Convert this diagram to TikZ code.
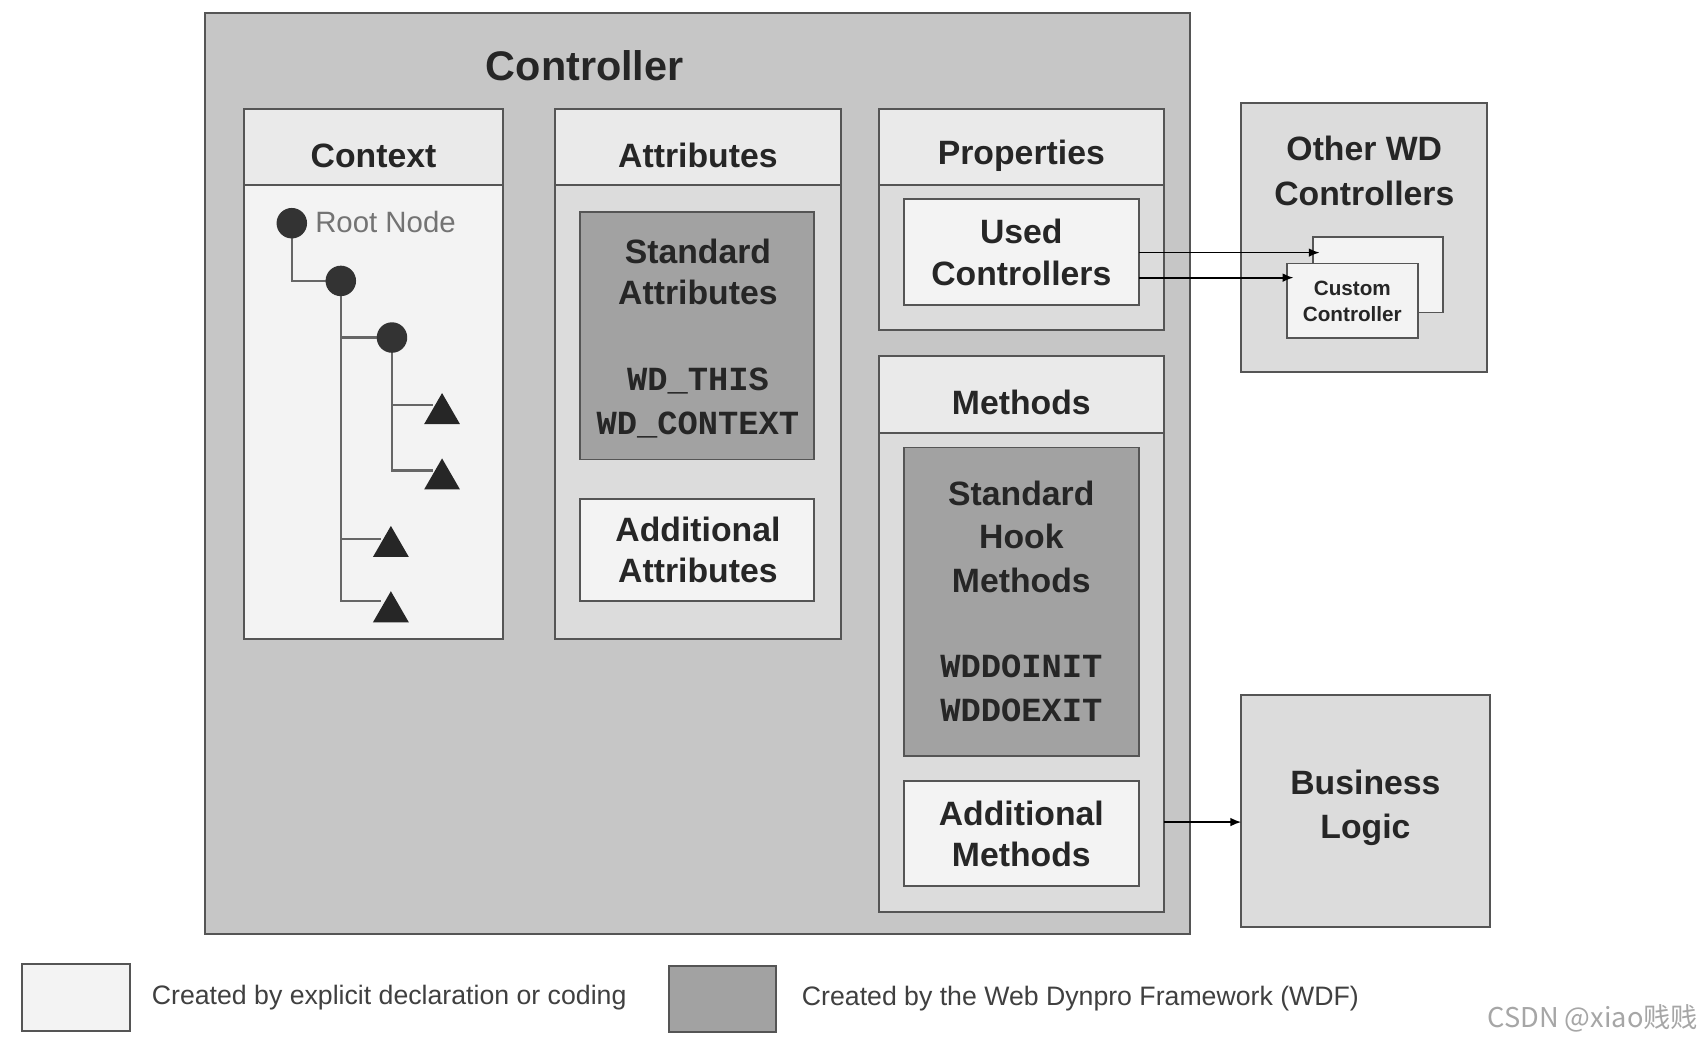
\documentclass[tikz,border=0pt]{standalone}
\usepackage{fontspec}
\setmainfont{Liberation Sans}
\newfontfamily\cjk{Noto Sans CJK SC}
\newfontfamily\mono{Liberation Mono}
\usetikzlibrary{arrows.meta,shapes.geometric}
\definecolor{bd}{HTML}{555555}
\definecolor{outer}{HTML}{C6C6C6}
\definecolor{hd}{HTML}{EAEAEA}
\definecolor{bodyc}{HTML}{DCDCDC}
\definecolor{lite}{HTML}{F3F3F3}
\definecolor{dark}{HTML}{A2A2A2}
\tikzset{
 box/.style={draw=bd,line width=1.8pt},
 lbl/.style={font=\fontsize{31}{38}\selectfont\bfseries,text=black!85,align=center},
 mon/.style={font=\mono\fontsize{31}{40}\selectfont\bfseries,text=black!85,align=center},
 tr/.style={draw=gray!80!black,line width=2.2pt},
 dot/.style={circle,fill=black!80,minimum size=28pt,inner sep=0pt},
 tri/.style={regular polygon,regular polygon sides=3,fill=black!85,minimum size=38pt,inner sep=0pt},
 arr/.style={line width=1.6pt,-{Latex[length=10pt,width=8pt]}},
 leg/.style={font=\fontsize{24.5}{28}\selectfont,text=black!75,anchor=west}
}
\begin{document}
\begin{tikzpicture}[x=1pt,y=-1pt]
\useasboundingbox (0,0) rectangle (1565,960);
\fill[white] (0,0) rectangle (1565,960);
% controller
\draw[box,fill=outer] (188,12) rectangle (1093,858);
\node[font=\fontsize{38}{44}\selectfont\bfseries,text=black!85] (ctl) at (537,60) {Controller};
% context
\draw[box,fill=lite] (224,100) rectangle (462,587);
\draw[box,fill=hd] (224,100) rectangle (462,170);
\node[lbl] (ctx) at (343,143) {Context};
\draw[tr] (268,205) -- (268,258) -- (313,258);
\draw[tr] (313,258) -- (313,552) -- (350,552);
\draw[tr] (313,310) -- (360,310);
\draw[tr] (313,495) -- (350,495);
\draw[tr] (360,310) -- (360,432) -- (398,432);
\draw[tr] (360,372) -- (398,372);
\node[dot] (r0) at (268,205) {};
\node[anchor=west,font=\fontsize{27}{30}\selectfont,text=black!55] (rn) at (286,204) {Root Node};
\node[dot] (r1) at (313,258) {};
\node[dot] (r2) at (360,310) {};
\node[tri] (t1) at (406,380) {};
\node[tri] (t2) at (406,440) {};
\node[tri] (t3) at (359,502) {};
\node[tri] (t4) at (359,562) {};
% attributes
\draw[box,fill=bodyc] (510,100) rectangle (772,587);
\draw[box,fill=hd] (510,100) rectangle (772,170);
\node[lbl] (att) at (641,143) {Attributes};
\draw[box,fill=dark] (533,195) rectangle (748,422);
\node[lbl] (sa) at (641,250) {Standard\\Attributes};
\node[mon] (wd) at (641,370) {WD\_THIS\\WD\_CONTEXT};
\draw[box,fill=lite] (533,458) rectangle (748,552);
\node[lbl] (aa) at (641,505) {Additional\\Attributes};
% properties
\draw[box,fill=bodyc] (807,100) rectangle (1069,303);
\draw[box,fill=hd] (807,100) rectangle (1069,170);
\node[lbl] (pr) at (938,143) {Properties};
\draw[box,fill=lite] (830,183) rectangle (1046,280);
\node[lbl] (uc) at (938,232) {Used\\Controllers};
% methods
\draw[box,fill=bodyc] (807,327) rectangle (1069,838);
\draw[box,fill=hd] (807,327) rectangle (1069,398);
\node[lbl] (me) at (938,370) {Methods};
\draw[box,fill=dark] (830,411) rectangle (1046,694);
\node[lbl,font=\fontsize{31}{40}\selectfont\bfseries] (shm) at (938,493) {Standard\\Hook\\Methods};
\node[mon] (wdi) at (938,632) {WDDOINIT\\WDDOEXIT};
\draw[box,fill=lite] (830,717) rectangle (1046,814);
\node[lbl] (am) at (938,766) {Additional\\Methods};
\coordinate (mr) at (1069,755);
% other WD
\draw[box,fill=bodyc] (1140,95) rectangle (1366,342);
\node[lbl,font=\fontsize{31}{41}\selectfont\bfseries] (ow) at (1253,157) {Other WD\\Controllers};
\draw[box,fill=lite] (1206,218) rectangle (1325,287);
\draw[box,fill=lite] (1182,242) rectangle (1302,310);
\node[font=\fontsize{19}{24}\selectfont\bfseries,text=black!85,align=center] (cc) at (1242,277) {Custom\\Controller};
\coordinate (u1) at (1046,232);
\coordinate (u2) at (1046,255);
\coordinate (c1) at (1212,232);
\coordinate (c2) at (1188,255);
\draw[arr] (u1) -- (c1);
\draw[arr] (u2) -- (c2);
% business logic
\draw[box,fill=bodyc] (1140,638) rectangle (1368,851);
\node[lbl,font=\fontsize{31}{41}\selectfont\bfseries] (bl) at (1254,742) {Business\\Logic};
\draw[arr] (mr) -- (1140,755);
% legend
\draw[box,fill=lite] (20,885) rectangle (119,947);
\node[leg] (l1) at (136,916) {Created by explicit declaration or coding};
\draw[box,fill=dark] (614,887) rectangle (713,948);
\node[leg] (l2) at (733,917) {Created by the Web Dynpro Framework (WDF)};
\node[anchor=east,font=\cjk\fontsize{25}{28}\selectfont,text=black!35] (wm) at (1563,935) {CSDN @xiao贱贱};
\end{tikzpicture}
\end{document}
